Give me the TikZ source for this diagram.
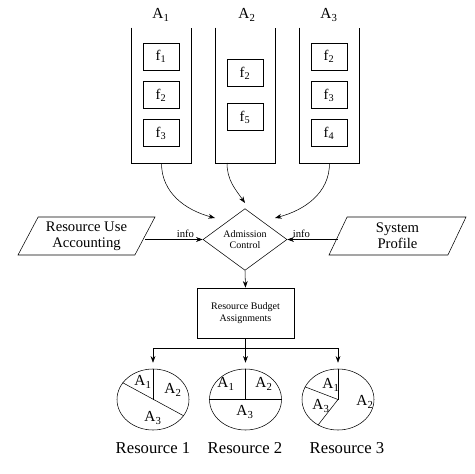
\documentclass[tikz,border=0pt]{standalone}
\usepackage{fontspec}
\setmainfont{Liberation Serif}
\usetikzlibrary{shapes.geometric,arrows.meta}

\begin{document}
\begin{tikzpicture}[x=0.75pt,y=0.75pt,yscale=-1,xscale=1,
  >={Stealth[length=5pt,width=3.6pt]},
  column/.style={minimum width=44.25pt,minimum height=101.25pt,inner sep=0pt},
  fbox/.style={draw,minimum width=27pt,minimum height=20.25pt,inner sep=0pt,font=\fontsize{11}{12}\selectfont},
  para/.style={draw,trapezium,trapezium left angle=55,trapezium right angle=125,trapezium stretches body,
    minimum width=102.75pt,minimum height=28.5pt,inner sep=0pt,align=center,font=\fontsize{11}{12}\selectfont},
  small/.style={font=\fontsize{7.5}{8.5}\selectfont,align=center},
  part/.style={draw,ellipse,minimum width=54pt,minimum height=45.75pt,inner sep=0pt},
  lbl/.style={font=\fontsize{11.5}{12}\selectfont,inner sep=0pt}
]
\useasboundingbox (0,0) rectangle (474,474);

% Columns
\node[column] (c1) at (161.5,95.5) {};
\node[column] (c2) at (245.5,95.5) {};
\node[column] (c3) at (329.5,95.5) {};
\foreach \c in {c1,c2,c3}
  \draw (\c.north west) -- (\c.south west) -- (\c.south east) -- (\c.north east);

% Text Node
\node[lbl] (a1) at (161,15) {A\textsubscript{1}};
\node[lbl] (a2) at (247,15) {A\textsubscript{2}};
\node[lbl] (a3) at (329,15) {A\textsubscript{3}};

% Function boxes
\node[fbox] (f11) at (161,56.5) {f\textsubscript{1}};
\node[fbox] (f12) at (161,95) {f\textsubscript{2}};
\node[fbox] (f13) at (161,133) {f\textsubscript{3}};
\node[fbox] (f22) at (245,73) {f\textsubscript{2}};
\node[fbox] (f25) at (245,117) {f\textsubscript{5}};
\node[fbox] (f32) at (329,56.5) {f\textsubscript{2}};
\node[fbox] (f33) at (329,95) {f\textsubscript{3}};
\node[fbox] (f34) at (329,133) {f\textsubscript{4}};

% Admission control
\node[draw,diamond,minimum width=63pt,minimum height=41.25pt,inner sep=0pt,small] (adm) at (245,239.5) {Admission\\Control};
\node[para] (use) at (86.5,236) {Resource Use\\Accounting};
\node[para] (prof) at (397.5,236) {System\\Profile};

% Curved arrows
\coordinate (out2) at (227,163);
\coordinate (in1) at (215,218);
\coordinate (in2) at (245,203);
\coordinate (in3) at (275,218);
\draw[->] (c1.south) to[out=90,in=195] (in1);
\draw[->] (out2) to[out=90,in=235] (in2);
\draw[->] (c3.south) to[out=90,in=-15] (in3);

% Info arrows
\draw[->] (use.east |- adm.west) -- node[above,pos=0.7,font=\fontsize{8}{9}\selectfont,inner sep=1.5pt] {info} (adm.west);
\draw[->] (prof.west |- adm.east) -- node[above,pos=0.72,font=\fontsize{8}{9}\selectfont,inner sep=1.5pt] {info} (adm.east);

% Budget
\node[draw,minimum width=72.75pt,minimum height=37.5pt,inner sep=0pt,small] (budget) at (245.5,313) {Resource Budget\\Assignments};
\draw[->] (adm.south) -- (budget.north);

% Resources
\node[part] (e1) at (153,399.5) {};
\node[part] (e2) at (245.5,399.5) {};
\node[part] (e3) at (338,399.5) {};
\coordinate (split) at (245.5,348);
\draw (budget.south) -- (split);
\draw (e1.north |- split) -- (e3.north |- split);
\foreach \e in {e1,e2,e3}
  \draw[->,shorten >=4.5pt] (\e.north |- split) -- (\e.north);

% Shares
\draw (e1.north) -- (e1.center);
\draw (e1.151.2) -- (e1.-28.8);
\draw (e2.north) -- (e2.center);
\draw (e2.west) -- (e2.east);
\draw (e3.north) -- (e3.center);
\draw (e3.159.4) -- (e3.center) -- (e3.232.7);

% Text Node
\node[lbl] (s11) at (143,382) {A\textsubscript{1}};
\node[lbl] (s12) at (173,390) {A\textsubscript{2}};
\node[lbl] (s13) at (153,418) {A\textsubscript{3}};
\node[lbl] (s21) at (226,384) {A\textsubscript{1}};
\node[lbl] (s22) at (264,384) {A\textsubscript{2}};
\node[lbl] (s23) at (245,412) {A\textsubscript{3}};
\node[lbl] (s31) at (331,385) {A\textsubscript{1}};
\node[lbl] (s33) at (321,406) {A\textsubscript{3}};
\node[lbl] (s32) at (365,402) {A\textsubscript{2}};

\node[lbl,font=\fontsize{12.5}{13}\selectfont] (r1) at (153,448) {Resource 1};
\node[lbl,font=\fontsize{12.5}{13}\selectfont] (r2) at (245,448) {Resource 2};
\node[lbl,font=\fontsize{12.5}{13}\selectfont] (r3) at (347,448) {Resource 3};

\end{tikzpicture}
\end{document}
